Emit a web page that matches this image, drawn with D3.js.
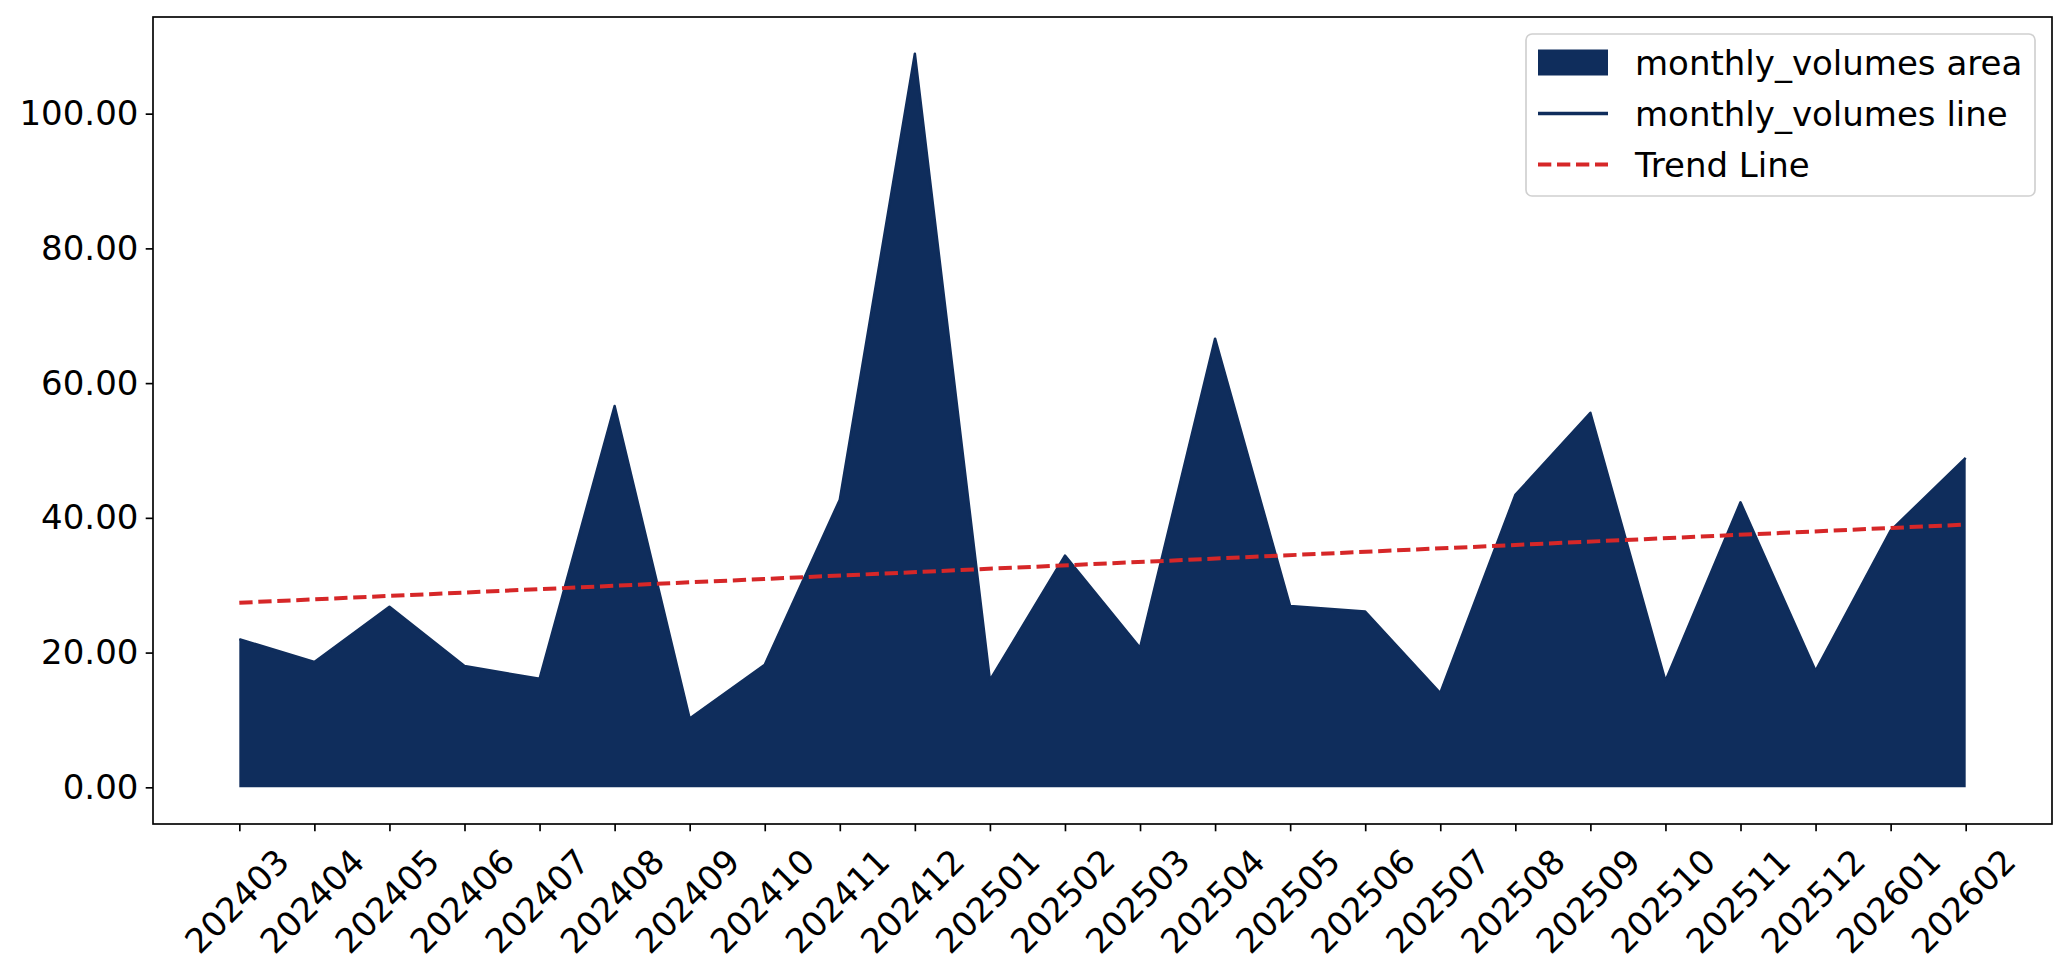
<!DOCTYPE html>
<html>
<head>
<meta charset="utf-8">
<script src="https://cdn.jsdelivr.net/npm/d3@7"></script>
<style>
  html, body { margin: 0; padding: 0; background: #fff; }
  svg { display: block; font-family: "DejaVu Sans", sans-serif; }
</style>
</head>
<body>
<div id="chart"></div>
<script>
// data
const months = [
  '202403', '202404', '202405', '202406', '202407', '202408',
  '202409', '202410', '202411', '202412', '202501', '202502',
  '202503', '202504', '202505', '202506', '202507', '202508',
  '202509', '202510', '202511', '202512', '202601', '202602'
];
const monthlyVolumes = [
  22.0, 18.6, 26.8, 18.0, 16.1, 56.6,
  10.2, 18.2, 42.7, 108.9, 15.9, 34.4,
  20.7, 66.6, 26.9, 26.1, 14.0, 43.4,
  55.6, 15.8, 42.3, 17.3, 38.1, 48.9
];
// trend line end values (first month, last month)
const trendValues = [27.4, 39.0];
const yTicks = [0, 20, 40, 60, 80, 100];
const legendLabels = ['monthly_volumes area', 'monthly_volumes line', 'Trend Line'];

const width = 2069;
const height = 975;
const margin = { top: 17, right: 17, bottom: 151, left: 153 };
const navy = '#0f2d5c';
const red = '#d62728';
const fontSize = 34;

const svg = d3.select('#chart')
  .append('svg')
  .attr('width', width)
  .attr('height', height);

const x = d3.scalePoint()
  .domain(months)
  .range([margin.left, width - margin.right])
  .padding(1.15);

const yMax = d3.max(monthlyVolumes);
const y = d3.scaleLinear()
  .domain([-0.05 * yMax, 1.05 * yMax])
  .range([height - margin.bottom, margin.top]);

// area + outline
const area = d3.area()
  .x((d, i) => x(months[i]))
  .y0(y(0))
  .y1(d => y(d));

svg.append('path')
  .datum(monthlyVolumes)
  .attr('d', area)
  .attr('fill', navy);

const line = d3.line()
  .x((d, i) => x(months[i]))
  .y(d => y(d));

svg.append('path')
  .datum(monthlyVolumes)
  .attr('d', line)
  .attr('fill', 'none')
  .attr('stroke', navy)
  .attr('stroke-width', 2.5)
  .attr('stroke-linejoin', 'round');

// trend line
const trendMonths = [months[0], months[months.length - 1]];
svg.append('path')
  .datum(trendValues)
  .attr('d', d3.line().x((d, i) => x(trendMonths[i])).y(d => y(d)))
  .attr('fill', 'none')
  .attr('stroke', red)
  .attr('stroke-width', 4)
  .attr('stroke-dasharray', '13.3,5.7');

// axes
const yAxis = d3.axisLeft(y)
  .tickValues(yTicks)
  .tickFormat(d3.format('.2f'))
  .tickSize(7.3)
  .tickPadding(7.3);

const gy = svg.append('g')
  .attr('transform', `translate(${margin.left},0)`)
  .call(yAxis);

const xAxis = d3.axisBottom(x)
  .tickSize(7.3)
  .tickSizeOuter(0);

const gx = svg.append('g')
  .attr('transform', `translate(0,${height - margin.bottom})`)
  .call(xAxis);

gx.selectAll('.tick text')
  .attr('y', 0)
  .attr('dy', '0.36em')
  .attr('text-anchor', 'middle')
  .attr('transform', 'translate(-3,77) rotate(-45)');

[gx, gy].forEach(g => {
  g.select('.domain').remove();
  g.selectAll('.tick line').attr('stroke', '#000').attr('stroke-width', 1.67);
  g.selectAll('.tick text')
    .attr('fill', '#000')
    .style('font-size', `${fontSize}px`)
    .style('font-family', '"DejaVu Sans", sans-serif');
});

// frame
svg.append('rect')
  .attr('x', margin.left)
  .attr('y', margin.top)
  .attr('width', width - margin.left - margin.right)
  .attr('height', height - margin.top - margin.bottom)
  .attr('fill', 'none')
  .attr('stroke', '#000')
  .attr('stroke-width', 1.67);

// legend
const legend = svg.append('g').attr('transform', 'translate(1526,34)');
legend.append('rect')
  .attr('width', 509)
  .attr('height', 162)
  .attr('rx', 6)
  .attr('fill', 'rgba(255,255,255,0.8)')
  .attr('stroke', '#d0d0d0')
  .attr('stroke-width', 1.67);

const rowBase = [41, 92, 143];
legendLabels.forEach((label, i) => {
  const row = legend.append('g').attr('transform', `translate(0,${rowBase[i]})`);
  const cy = -12.5;
  if (i === 0) {
    row.append('rect')
      .attr('x', 12).attr('y', cy - 13)
      .attr('width', 70).attr('height', 26)
      .attr('fill', navy);
  } else if (i === 1) {
    row.append('line')
      .attr('x1', 12).attr('x2', 82)
      .attr('y1', cy).attr('y2', cy)
      .attr('stroke', navy).attr('stroke-width', 3.5);
  } else {
    row.append('line')
      .attr('x1', 12).attr('x2', 82)
      .attr('y1', cy).attr('y2', cy)
      .attr('stroke', red).attr('stroke-width', 4)
      .attr('stroke-dasharray', '13.3,5.7');
  }
  row.append('text')
    .attr('x', 109)
    .attr('y', 0)
    .style('font-size', `${fontSize}px`)
    .attr('fill', '#000')
    .text(label);
});
</script>
</body>
</html>
